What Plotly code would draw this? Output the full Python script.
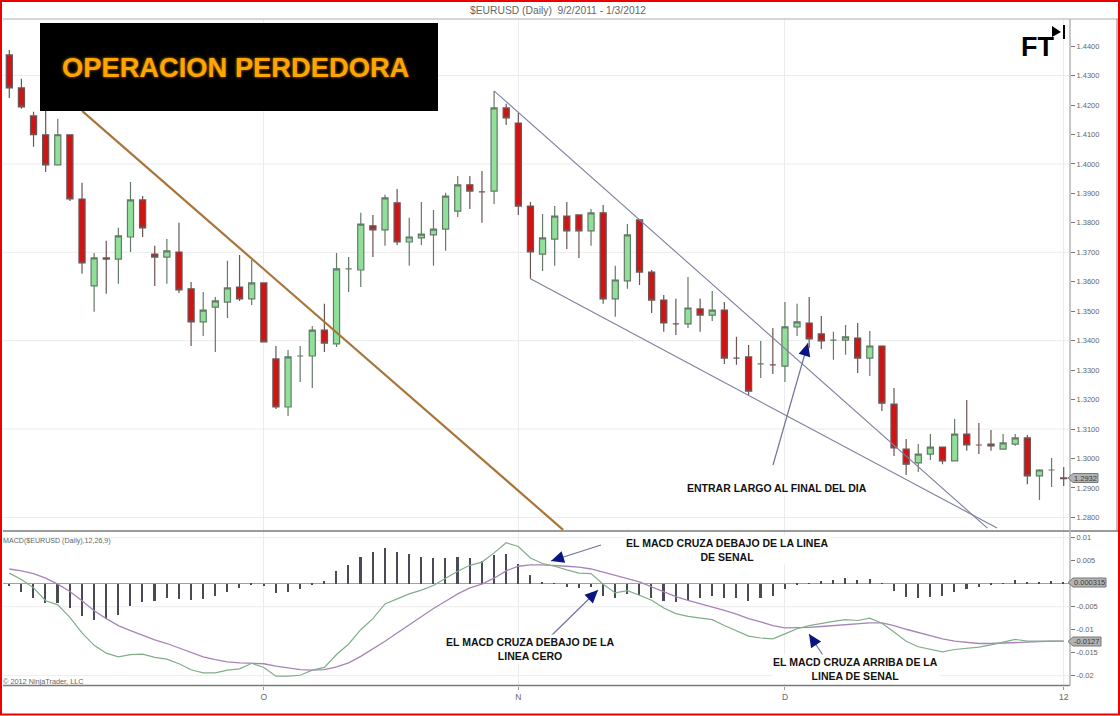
import math
import plotly.graph_objects as go

W, H = 1120, 716

opens = [1.4370,1.4258,1.4163,1.4099,1.3997,1.4099,1.3881,1.3586,1.3681,1.3677,1.3752,1.3878,1.3694,1.3684,1.3701,1.3576,1.3464,1.3514,1.3531,1.3582,1.3542,1.3596,
         1.3338,1.3175,1.3348,1.3348,1.3436,1.3389,1.3644,1.3640,1.3790,1.3776,1.3868,1.3735,1.3749,1.3759,1.3779,1.3840,1.3929,1.3905,1.3908,1.4190,
         1.4139,1.3857,1.3694,1.3745,1.3823,1.3827,1.3773,1.3834,1.3542,1.3603,1.3810,1.3633,1.3538,1.3457,1.3457,1.3508,1.3487,1.3504,1.3341,1.3345,1.3321,1.3318,
         1.3314,1.3447,1.3460,1.3423,1.3402,1.3402,1.3409,1.3341,1.3382,1.3185,1.3032,1.2985,1.3015,1.3039,1.2992,1.3083,1.3046,1.3049,1.3032,1.3049,1.3070,1.2941,1.2961,1.2934]
highs = [1.4387,1.4289,1.4177,1.4217,1.4153,1.4099,1.3936,1.3698,1.3739,1.3783,1.3939,1.3891,1.3722,1.3745,1.3800,1.3599,1.3565,1.3548,1.3671,1.3691,1.3674,1.3596,
         1.3382,1.3368,1.3382,1.3450,1.3525,1.3698,1.3684,1.3834,1.3827,1.3895,1.3915,1.3817,1.3871,1.3844,1.3902,1.3959,1.3959,1.3976,1.4248,1.4204,
         1.4173,1.3871,1.3830,1.3857,1.3871,1.3827,1.3847,1.3861,1.3654,1.3796,1.3810,1.3640,1.3555,1.3542,1.3616,1.3542,1.3569,1.3531,1.3413,1.3385,1.3399,1.3443,
         1.3531,1.3525,1.3548,1.3484,1.3430,1.3453,1.3460,1.3433,1.3382,1.3239,1.3066,1.3049,1.3083,1.3039,1.3134,1.3199,1.3121,1.3097,1.3083,1.3083,1.3080,1.2964,1.3002,1.2971]
lows = [1.4224,1.4187,1.4058,1.3973,1.3997,1.3874,1.3627,1.3498,1.3559,1.3593,1.3701,1.3752,1.3586,1.3593,1.3562,1.3382,1.3416,1.3362,1.3477,1.3535,1.3521,1.3396,
        1.3168,1.3144,1.3260,1.3239,1.3362,1.3379,1.3565,1.3582,1.3684,1.3722,1.3725,1.3654,1.3725,1.3654,1.3705,1.3820,1.3847,1.3800,1.3864,1.4132,
        1.3827,1.3610,1.3637,1.3654,1.3711,1.3681,1.3722,1.3525,1.3481,1.3576,1.3589,1.3494,1.3430,1.3419,1.3443,1.3430,1.3467,1.3321,1.3318,1.3216,1.3273,1.3287,
        1.3260,1.3416,1.3375,1.3372,1.3335,1.3352,1.3290,1.3280,1.3161,1.3009,1.2944,1.2954,1.2995,1.2981,1.2992,1.3026,1.3015,1.3026,1.3032,1.3043,1.2913,1.2859,1.2903,1.2907]
closes = [1.4258,1.4194,1.4099,1.3997,1.4099,1.3881,1.3664,1.3681,1.3677,1.3756,1.3878,1.3783,1.3684,1.3705,1.3572,1.3464,1.3504,1.3535,1.3579,1.3542,1.3596,1.3396,
          1.3175,1.3345,1.3348,1.3436,1.3392,1.3644,1.3644,1.3796,1.3776,1.3885,1.3735,1.3752,1.3762,1.3779,1.3891,1.3929,1.3908,1.3905,1.4190,1.4156,
          1.3857,1.3701,1.3749,1.3823,1.3773,1.3773,1.3834,1.3542,1.3606,1.3759,1.3633,1.3538,1.3460,1.3457,1.3511,1.3487,1.3504,1.3341,1.3341,1.3229,1.3321,1.3318,
          1.3447,1.3464,1.3406,1.3399,1.3402,1.3413,1.3341,1.3382,1.3188,1.3036,1.2981,1.3015,1.3039,1.2992,1.3083,1.3046,1.3046,1.3043,1.3053,1.3070,1.2941,1.2961,1.2961,1.2932]

hist = [-0.0006,-0.0017,-0.0030,-0.0043,-0.0042,-0.0053,-0.0071,-0.0078,-0.0076,-0.0067,-0.0048,-0.0039,-0.0037,-0.0031,-0.0033,-0.0036,-0.0033,-0.0026,-0.0017,-0.0010,-0.0001,-0.0006,
        -0.0021,-0.0017,-0.0011,-0.0001,0.0006,0.0027,0.0041,0.0058,0.0068,0.0078,0.0070,0.0064,0.0058,0.0055,0.0056,0.0058,0.0056,0.0050,0.0062,0.0065,
        0.0043,0.0018,0.0003,0.0001,-0.0007,-0.0010,-0.0008,-0.0026,-0.0031,-0.0023,-0.0025,-0.0031,-0.0037,-0.0040,-0.0036,-0.0032,-0.0026,-0.0032,-0.0032,-0.0037,-0.0032,-0.0026,
        -0.0012,-0.0001,0.0001,0.0006,0.0009,0.0012,0.0009,0.0011,0.0001,-0.0015,-0.0028,-0.0030,-0.0028,-0.0026,-0.0017,-0.0012,-0.0007,-0.0001,0.0001,0.0008,0.0003,0.0004,0.0005,0.0003]
macd = [0.0023,0.0009,-0.0009,-0.0037,-0.0046,-0.0073,-0.0107,-0.0134,-0.0151,-0.0159,-0.0154,-0.0153,-0.0160,-0.0164,-0.0174,-0.0187,-0.0194,-0.0194,-0.0188,-0.0185,-0.0173,-0.0182,
        -0.0201,-0.0201,-0.0199,-0.0188,-0.0182,-0.0154,-0.0131,-0.0100,-0.0076,-0.0044,-0.0033,-0.0022,-0.0014,-0.0004,0.0012,0.0027,0.0040,0.0047,0.0067,0.0089,
        0.0081,0.0056,0.0044,0.0038,0.0030,0.0023,0.0022,-0.0001,-0.0020,-0.0015,-0.0025,-0.0036,-0.0053,-0.0065,-0.0071,-0.0075,-0.0078,-0.0091,-0.0102,-0.0114,-0.0118,-0.0120,
        -0.0109,-0.0098,-0.0091,-0.0086,-0.0082,-0.0078,-0.0080,-0.0075,-0.0086,-0.0105,-0.0125,-0.0137,-0.0142,-0.0148,-0.0143,-0.0141,-0.0138,-0.0133,-0.0127,-0.0121,-0.0125,-0.0125,-0.0125,-0.0125]
signal = [0.0032,0.0028,0.0022,0.0012,-0.0001,-0.0017,-0.0037,-0.0059,-0.0076,-0.0091,-0.0102,-0.0112,-0.0122,-0.0130,-0.0140,-0.0149,-0.0159,-0.0165,-0.0170,-0.0172,-0.0173,-0.0174,
          -0.0179,-0.0183,-0.0187,-0.0188,-0.0187,-0.0181,-0.0172,-0.0158,-0.0142,-0.0125,-0.0107,-0.0089,-0.0071,-0.0054,-0.0038,-0.0022,-0.0009,-0.0001,0.0012,0.0028,
          0.0038,0.0041,0.0041,0.0040,0.0038,0.0036,0.0032,0.0025,0.0018,0.0012,0.0004,-0.0007,-0.0017,-0.0028,-0.0036,-0.0043,-0.0051,-0.0058,-0.0066,-0.0076,-0.0083,-0.0091,
          -0.0096,-0.0096,-0.0095,-0.0093,-0.0091,-0.0088,-0.0087,-0.0085,-0.0085,-0.0091,-0.0099,-0.0106,-0.0113,-0.0120,-0.0125,-0.0128,-0.0130,-0.0130,-0.0129,-0.0128,-0.0127,-0.0125,-0.0125,-0.0125]

days = list(range(len(opens)))
date_ticks = [21, 42, 64, 87]
date_labels = ["O", "N", "D", "12"]
price_ticks = [1.28, 1.29, 1.30, 1.31, 1.32, 1.33, 1.34, 1.35, 1.36, 1.37, 1.38, 1.39, 1.40, 1.41, 1.42, 1.43, 1.44]
price_grid = [1.28, 1.31, 1.34, 1.37, 1.40, 1.43]
macd_ticks = [0.01, 0.005, -0.005, -0.01, -0.015, -0.02]
macd_labels = ["0.01", "0.005", "-0.005", "-0.01", "-0.015", "-0.02"]
macd_grid = [0.01, -0.005, -0.02]

# trend lines, in bar number / price
brown_x, brown_y = [6.0, 45.7], [1.4180, 1.2758]
upper_x, upper_y = [40.0, 80.7], [1.4248, 1.2764]
lower_x, lower_y = [43.0, 81.5], [1.3610, 1.2764]

TOP_AXIS, MID_AXIS, BOT_AXIS = 19, 531, 685.5
RIGHT_AXIS = 1070


def fx(x):
    return x / W


def fy(y):
    return 1 - y / H


def label(x, y, text, font, xanchor="center", **kw):
    return dict(x=fx(x), y=fy(y), xref="paper", yref="paper", xanchor=xanchor, yanchor="middle",
                showarrow=False, text=text, font=font, **kw)


fig = go.Figure()

fig.add_trace(go.Candlestick(
    x=days, open=opens, high=highs, low=lows, close=closes,
    increasing=dict(fillcolor="#90e09a", line=dict(color="#667a69", width=1.2)),
    decreasing=dict(fillcolor="#d01414", line=dict(color="#6d5555", width=1.2)),
    whiskerwidth=0, xaxis="x", yaxis="y", showlegend=False))

for xs, ys, col, wid in [(brown_x, brown_y, "#a8753a", 2.2),
                         (upper_x, upper_y, "#7d80a0", 1.1),
                         (lower_x, lower_y, "#7d80a0", 1.1)]:
    fig.add_trace(go.Scatter(x=xs, y=ys, mode="lines", line=dict(color=col, width=wid),
                             xaxis="x", yaxis="y", showlegend=False))

fig.add_trace(go.Bar(x=days, y=hist, width=0.13, marker=dict(color="#4a4a55", line=dict(width=0)),
                     xaxis="x2", yaxis="y2", showlegend=False))
fig.add_trace(go.Scatter(x=days, y=signal, mode="lines", line=dict(color="#a884b8", width=1.3),
                         xaxis="x2", yaxis="y2", showlegend=False))
fig.add_trace(go.Scatter(x=days, y=macd, mode="lines", line=dict(color="#82ad8a", width=1.2),
                         xaxis="x2", yaxis="y2", showlegend=False))

shapes = []
for lvl in price_grid:
    shapes.append(dict(type="line", xref="paper", yref="y", x0=fx(3), x1=fx(RIGHT_AXIS), y0=lvl, y1=lvl,
                       line=dict(color="#ececec", width=1), layer="below"))
for lvl in macd_grid:
    shapes.append(dict(type="line", xref="paper", yref="y2", x0=fx(3), x1=fx(RIGHT_AXIS), y0=lvl, y1=lvl,
                       line=dict(color="#ececec", width=1), layer="below"))

# frame lines
for y, col, wid in [(TOP_AXIS, "#c8c8c8", 1.5), (MID_AXIS, "#7a7a7a", 1.5), (BOT_AXIS, "#7a7a7a", 1.5)]:
    shapes.append(dict(type="line", xref="paper", yref="paper", x0=fx(3), x1=fx(1118 if y != BOT_AXIS else RIGHT_AXIS),
                       y0=fy(y), y1=fy(y), line=dict(color=col, width=wid)))
shapes.append(dict(type="line", xref="paper", yref="paper", x0=fx(RIGHT_AXIS), x1=fx(RIGHT_AXIS),
                   y0=fy(TOP_AXIS), y1=fy(BOT_AXIS), line=dict(color="#b4b4b4", width=1.5)))
shapes.append(dict(type="line", xref="paper", yref="paper", x0=fx(1117), x1=fx(1117),
                   y0=fy(TOP_AXIS), y1=fy(MID_AXIS), line=dict(color="#808080", width=1)))

# black banner
shapes.append(dict(type="rect", xref="paper", yref="paper", x0=fx(40), x1=fx(438), y0=fy(23), y1=fy(111),
                   fillcolor="black", line=dict(width=0)))

# logo mark
shapes.append(dict(type="path", xref="paper", yref="paper",
                   path=f"M {fx(1052)} {fy(26)} L {fx(1061)} {fy(32)} L {fx(1052)} {fy(37)} Z",
                   fillcolor="black", line=dict(width=0)))
shapes.append(dict(type="rect", xref="paper", yref="paper", x0=fx(1063), x1=fx(1065), y0=fy(25), y1=fy(39),
                   fillcolor="black", line=dict(width=0)))

# last-value tags: (text, centre y in pixels, right edge)
tags = [("1.2932", 478, 1098), ("0.000315", 582.5, 1106), ("-0.0127", 641.5, 1101)]
annotations = []
for text, ty, right in tags:
    shapes.append(dict(type="path", xref="paper", yref="paper",
                       path=f"M {fx(1068)} {fy(ty)} L {fx(1073)} {fy(ty - 4.5)} L {fx(right)} {fy(ty - 4.5)} "
                            f"L {fx(right)} {fy(ty + 4.5)} L {fx(1073)} {fy(ty + 4.5)} Z",
                       fillcolor="#b2b2b2", line=dict(color="#787878", width=1)))
    annotations.append(label(1072, ty, text, dict(family="Liberation Sans", size=7.5, color="#3a3a3a"), xanchor="left"))

# border
shapes.append(dict(type="rect", xref="paper", yref="paper", x0=fx(1), x1=fx(1119), y0=fy(1), y1=fy(714.5),
                   line=dict(color="#ee0000", width=2)))

annotations += [
    label(557.5, 10, "$EURUSD (Daily)  9/2/2011 - 1/3/2012", dict(family="Liberation Sans", size=10.3, color="#666666")),
    label(235.5, 68, "<b>OPERACION PERDEDORA</b>",
          dict(family="Liberation Sans", size=27.3, color="#ffa500", shadow="0 0 3px #c88000")),
    label(1037, 47, "<b>FT</b>", dict(family="Liberation Sans", size=27, color="black")),
    label(1, 541, "MACD($EURUSD (Daily),12,26,9)", dict(family="Liberation Sans", size=7.1, color="#666666"), xanchor="left"),
    label(1, 681.5, "© 2012 NinjaTrader, LLC", dict(family="Liberation Sans", size=7.3, color="#666666"), xanchor="left"),
]

notes = [("ENTRAR LARGO AL FINAL DEL DIA", 776.5, 488),
         ("EL MACD CRUZA DEBAJO DE LA LINEA<br>DE SENAL", 727, 550),
         ("EL MACD CRUZA DEBAJO DE LA<br>LINEA CERO", 530, 649),
         ("EL MACD CRUZA ARRIBA DE LA<br>LINEA DE SENAL", 855, 669)]
for text, nx, ny in notes:
    annotations.append(label(nx, ny, f"<b>{text}</b>".replace("<br>", "</b><br><b>"),
                             dict(family="Liberation Sans", size=10.5, color="#111111"), align="center", bgcolor="white"))

# arrows: tail then tip, in pixels
arrows = [((773, 465), (808, 343)), ((601, 545), (551, 561)), ((551, 636), (598, 590)), ((826, 660), (809, 634))]
for (tx, ty), (hx, hy) in arrows:
    shapes.append(dict(type="line", xref="paper", yref="paper", x0=fx(tx), y0=fy(ty), x1=fx(hx), y1=fy(hy),
                       line=dict(color="#70749a", width=1.2)))
    length = math.hypot(tx - hx, ty - hy)
    ux, uy = (tx - hx) / length, (ty - hy) / length
    bx, by = hx + ux * 13, hy + uy * 13
    head = f"M {fx(hx)} {fy(hy)} L {fx(bx - uy * 6)} {fy(by + ux * 6)} L {fx(bx + uy * 6)} {fy(by - ux * 6)} Z"
    shapes.append(dict(type="path", xref="paper", yref="paper", path=head, fillcolor="#0a1580", line=dict(width=0)))

axis_font = dict(family="Liberation Sans", size=7.5, color="#666666")
fig.update_layout(
    width=W, height=H, autosize=False,
    margin=dict(l=0, r=0, t=0, b=0),
    paper_bgcolor="white", plot_bgcolor="white",
    showlegend=False, bargap=0, boxgap=0.28,
    xaxis=dict(domain=[fx(3), fx(RIGHT_AXIS)], range=[-0.52, 87.52], anchor="y", rangeslider=dict(visible=False),
               tickmode="array", tickvals=date_ticks, ticktext=["", "", "", ""], showgrid=True, gridcolor="#ececec",
               gridwidth=1, zeroline=False, showline=False, ticks=""),
    yaxis=dict(domain=[fy(MID_AXIS), fy(TOP_AXIS)], range=[1.2754, 1.4492], anchor="x", side="right", tickmode="array",
               tickvals=price_ticks, ticktext=[f"{v:.4f}" for v in price_ticks], showgrid=False, zeroline=False, showline=False,
               ticks="outside", ticklen=4, tickcolor="#777777", tickfont=axis_font),
    xaxis2=dict(domain=[fx(3), fx(RIGHT_AXIS)], range=[-0.52, 87.52], anchor="y2", tickmode="array", tickvals=date_ticks,
                ticktext=date_labels, showgrid=True, gridcolor="#ececec", gridwidth=1, zeroline=False, showline=False,
                ticks="outside", ticklen=3, tickcolor="#999999", tickfont=dict(family="Liberation Sans", size=8.5, color="#666666")),
    yaxis2=dict(domain=[fy(BOT_AXIS), fy(MID_AXIS)], range=[-0.02213, 0.01146], anchor="x2", side="right", tickmode="array",
                tickvals=macd_ticks, ticktext=macd_labels, showgrid=False, zeroline=True, zerolinecolor="#a0a0a0", zerolinewidth=1,
                showline=False, ticks="outside", ticklen=4, tickcolor="#777777", tickfont=axis_font),
    shapes=shapes, annotations=annotations,
)

fig.write_html("out.html", config=dict(displayModeBar=False),
               post_script="document.body.style.margin='0';document.body.style.overflow='hidden';")
